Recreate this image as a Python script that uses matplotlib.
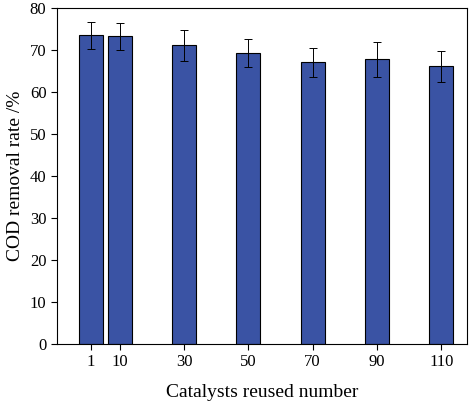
import matplotlib.pyplot as plt

plt.rcParams['font.family'] = ['Liberation Serif', 'DejaVu Serif']

reuse_num = [1, 10, 30, 50, 70, 90, 110]
cod_removal = [73.5, 73.3, 71.1, 69.3, 67.1, 67.8, 66.1]
cod_err = [3.2, 3.2, 3.7, 3.3, 3.5, 4.2, 3.8]

fig = plt.figure(figsize=(4.74, 4.09), dpi=100)
ax = fig.add_axes([0.12, 0.16, 0.865, 0.82])

ax.bar(reuse_num, cod_removal, width=7.5, color='#3a53a4', edgecolor='black',
       linewidth=0.8, yerr=cod_err, capsize=3,
       error_kw=dict(elinewidth=0.7, capthick=0.7, ecolor='black'))

ax.set_xlim(-9.6, 118)
ax.set_ylim(0, 80)
ax.set_xticks(reuse_num)
ax.set_yticks(range(0, 81, 10))
ax.tick_params(labelsize=12, direction='out', length=4)
ax.set_xlabel('Catalysts reused number', fontsize=14, labelpad=10)
ax.set_ylabel('COD removal rate /%', fontsize=14)

fig.savefig('out.png', dpi=100)
